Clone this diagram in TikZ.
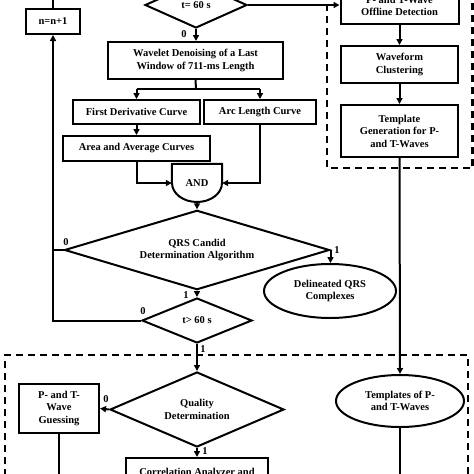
\documentclass[tikz,border=0pt]{standalone}
\usepackage{fontspec}
\setmainfont{Liberation Serif}
\usetikzlibrary{shapes.geometric,arrows.meta}
\begin{document}
\begin{tikzpicture}[x=1pt,y=-1pt,
  every node/.style={font=\bfseries\fontsize{10.5}{12.5}\selectfont, align=center},
  ln/.style={line width=2pt},
  arr/.style={ln,-{Triangle[length=6pt,width=6pt]}},
  boxn/.style={draw, ln, rectangle, inner sep=0pt},
  dia/.style={draw, ln, diamond, inner sep=0pt, aspect=2},
  ell/.style={draw, ln, ellipse, inner sep=0pt},
  dsh/.style={line width=2.2pt, dash pattern=on 7pt off 5pt},
  lab/.style={inner sep=0pt}]
\useasboundingbox (0,0) rectangle (474,474);
\clip (0,0) rectangle (474,474);
% dashed frames
\draw[dsh] (327,-20) -- (327,168) -- (472.5,168) -- (472.5,-20);
\draw[dsh] (5,500) -- (5,355) -- (468,355) -- (468,500);
% nodes
\node[dia, minimum width=102pt, minimum height=46pt] (d0) at (196,5) {t= 60 s};
\node[boxn, minimum width=54pt, minimum height=25pt] (nbox) at (53,21.5) {n=n+1};
\node[boxn, minimum width=118pt, minimum height=36pt] (off) at (399.5,6) {P- and T-Wave\\Offline Detection};
\node[boxn, minimum width=117pt, minimum height=37pt] (wave) at (399.5,64.5) {Waveform\\Clustering};
\node[boxn, minimum width=117pt, minimum height=52pt] (templ) at (399.5,131) {Template\\Generation for P-\\and T-Waves};
\node[boxn, minimum width=175pt, minimum height=37pt] (wlt) at (195.5,60.5) {Wavelet Denoising of a Last\\Window of 711-ms Length};
\node[boxn, minimum width=127pt, minimum height=24pt] (fd) at (136.5,112) {First Derivative Curve};
\node[boxn, minimum width=112pt, minimum height=24pt] (arc) at (260,112) {Arc Length Curve};
\node[boxn, minimum width=147pt, minimum height=25pt] (area) at (136.5,148.5) {Area and Average Curves};
\node[minimum width=50pt, minimum height=38pt, inner sep=0pt] (and) at (197,183) {AND};
\draw[ln] (and.north west) -- (and.north east) -- (222,183)
  .. controls (222,193.5) and (210.8,202) .. (197,202)
  .. controls (183.2,202) and (172,193.5) .. (172,183) -- cycle;
\node[dia, minimum width=265pt, minimum height=74pt] (qrs) at (197,250) {QRS Candid\\Determination Algorithm};
\node[ell, minimum width=132pt, minimum height=54pt] (dqrs) at (330,291) {Delineated QRS\\Complexes};
\node[dia, minimum width=110pt, minimum height=45pt] (t60) at (197,320.5) {t> 60 s};
\node[dia, minimum width=174pt, minimum height=75pt] (qual) at (197,409.5) {Quality\\Determination};
\node[boxn, minimum width=80pt, minimum height=49pt] (guess) at (59,408.5) {P- and T-\\Wave\\Guessing};
\node[ell, minimum width=128pt, minimum height=52pt] (tmpl) at (400,401) {Templates of P-\\and T-Waves};
\node[boxn, minimum width=142pt, minimum height=40pt] (corr) at (197,478) {Correlation Analyzer and\\~};
\coordinate (ntop) at (53,-30);
\coordinate (gbot) at (59,500);
\coordinate (tbot) at (400,500);
\coordinate (j1) at (196,89);
% connectors
\draw[arr] (d0.south) -- (d0.south |- wlt.north);
\draw[arr] (d0.east) -- (d0.east -| off.west);
\draw[ln] (nbox.north) -- (ntop);
\draw[arr] (off.south) -- (wave.north);
\draw[arr] (wave.south) -- (templ.north);
\draw[arr] (templ.south) -- (tmpl.north);
\draw[ln] (tmpl.south) -- (tbot);
\draw[ln] (wlt.south) -- (j1);
\draw[ln] (fd.north |- j1) -- (arc.north |- j1);
\draw[arr] (fd.north |- j1) -- (fd.north);
\draw[arr] (arc.north |- j1) -- (arc.north);
\draw[arr] (fd.south) -- (area.north);
\draw[arr] (area.south) |- (and.west);
\draw[arr] (arc.south) |- (and.east);
\draw[arr] (and.south) -- (qrs.north);
\draw[ln] (qrs.west) -- (qrs.west -| nbox.south);
\draw[arr] (qrs.east) -- (qrs.east |- dqrs.north);
\draw[arr] (qrs.south) -- (t60.north);
\draw[arr] (t60.west) -| (nbox.south);
\draw[arr] (t60.south) -- (qual.north);
\draw[arr] (qual.west) -- (guess.east);
\draw[arr] (qual.south) -- (corr.north);
\draw[ln] (guess.south) -- (gbot);
% labels
\node[lab] (l1) at (184,34) {0};
\node[lab] (l2) at (66,242) {0};
\node[lab] (l3) at (337,250) {1};
\node[lab] (l4) at (186,295) {1};
\node[lab] (l5) at (143,311) {0};
\node[lab] (l6) at (203,349) {1};
\node[lab] (l7) at (106,399) {0};
\node[lab] (l8) at (205,451) {1};
\end{tikzpicture}
\end{document}
